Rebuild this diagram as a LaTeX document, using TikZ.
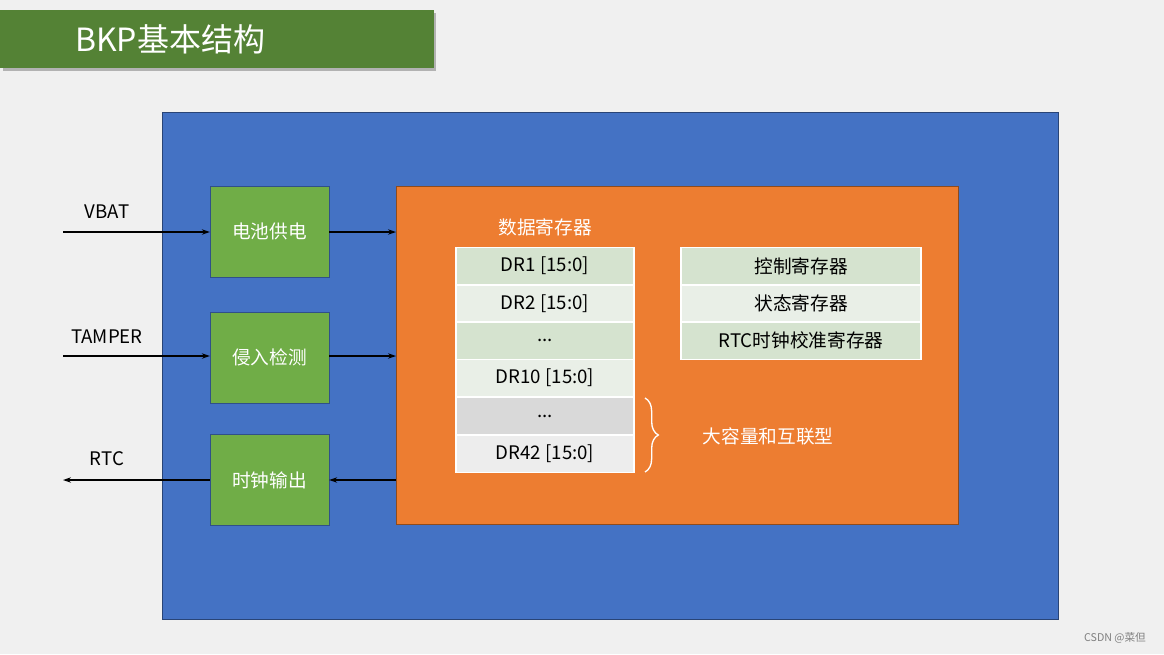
\documentclass[tikz,border=0pt]{standalone}
\usepackage{fontspec}
\setmainfont{Noto Sans CJK SC}
\usetikzlibrary{arrows.meta,decorations.pathreplacing}
\definecolor{bg}{HTML}{F0F0F0}
\definecolor{tgreen}{HTML}{548235}
\definecolor{blu}{HTML}{4472C4}
\definecolor{gbox}{HTML}{70AD47}
\definecolor{org}{HTML}{ED7D31}
\definecolor{ra}{HTML}{D5E3CF}
\definecolor{rb}{HTML}{E9EFE7}
\definecolor{rc}{HTML}{D9D9D9}
\definecolor{rd}{HTML}{EDEDED}
\begin{document}
\begin{tikzpicture}[x=0.75pt,y=-0.75pt,
  gb/.style={draw=blu!70!black,fill=gbox,minimum width=89pt,minimum height=68pt,text=white,font=\fontsize{14}{16}\selectfont,inner sep=0pt},
  row/.style={draw=white,line width=1pt,minimum height=28pt,inner sep=0pt,font=\fontsize{14}{16}\selectfont},
  arr/.style={-{Stealth[length=6pt,width=4pt]},line width=1.5pt},
  lab/.style={font=\fontsize{14}{16}\selectfont}]
\fill[bg] (0,0) rectangle (1164,654);
\useasboundingbox (0,0) rectangle (1164,654);
\fill[black!30] (3,13) rectangle (436,71);
\node[fill=tgreen,minimum width=325pt,minimum height=43.5pt,inner sep=0pt,anchor=north west,text=white,font=\fontsize{24}{28}\selectfont] (title) at (0,10) {\hspace*{-70pt}BKP基本结构};
\node[draw=blu!60!black,fill=blu,minimum width=672pt,minimum height=380pt,anchor=north west,inner sep=0pt] (main) at (162,112) {};
\node[gb] (g1) at (269.5,231.5) {电池供电};
\node[gb] (g2) at (269.5,357.5) {侵入检测};
\node[gb] (g3) at (269.5,480) {时钟输出};
\node[draw=org!60!black,fill=org,minimum width=421.5pt,minimum height=253.5pt,anchor=north west,inner sep=0pt] (o) at (396,186) {};
\coordinate (v0) at (63,232); \coordinate (t0) at (63,356); \coordinate (r0) at (63,480);
\coordinate (o1) at (396,232); \coordinate (o2) at (396,356); \coordinate (o3) at (396,480);
\draw[arr] (v0) -- (v0-|g1.west);
\draw[arr] (t0) -- (t0-|g2.west);
\draw[arr] (r0-|g3.west) -- (r0);
\draw[arr] (o1-|g1.east) -- (o1);
\draw[arr] (o2-|g2.east) -- (o2);
\draw[arr] (o3) -- (o3-|g3.east);
\node[lab] (lv) at (107,212) {VBAT};
\node[lab] (lt) at (107,337) {TAMPER};
\node[lab] (lr) at (107,459) {RTC};
\node[lab,text=white] (dl) at (545,227) {数据寄存器};
\begin{scope}[every node/.style={row,minimum width=133.5pt}]
\node[fill=ra] (d1) at (545,266) {DR1 [15:0]};
\node[fill=rb] (d2) at (545,303.5) {DR2 [15:0]};
\node[fill=ra] (d3) at (545,340.5) {...};
\node[fill=rb] (d4) at (545,378) {DR10 [15:0]};
\node[fill=rc] (d5) at (545,416) {...};
\node[fill=rd] (d6) at (545,453.5) {DR42 [15:0]};
\end{scope}
\begin{scope}[every node/.style={row,minimum width=180pt}]
\node[fill=ra] (c1) at (801,266) {控制寄存器};
\node[fill=rb] (c2) at (801,303.5) {状态寄存器};
\node[fill=ra] (c3) at (801,340.5) {RTC时钟校准寄存器};
\end{scope}
\draw[white,line width=1pt,decorate,decoration={brace,amplitude=10pt}] (645,398) -- (645,472);
\node[lab,text=white,anchor=west] (big) at (698,436) {大容量和互联型};
\node[font=\fontsize{8}{10}\selectfont,text=black!50] (cs) at (1115,638) {CSDN @菜但};
\end{tikzpicture}
\end{document}
